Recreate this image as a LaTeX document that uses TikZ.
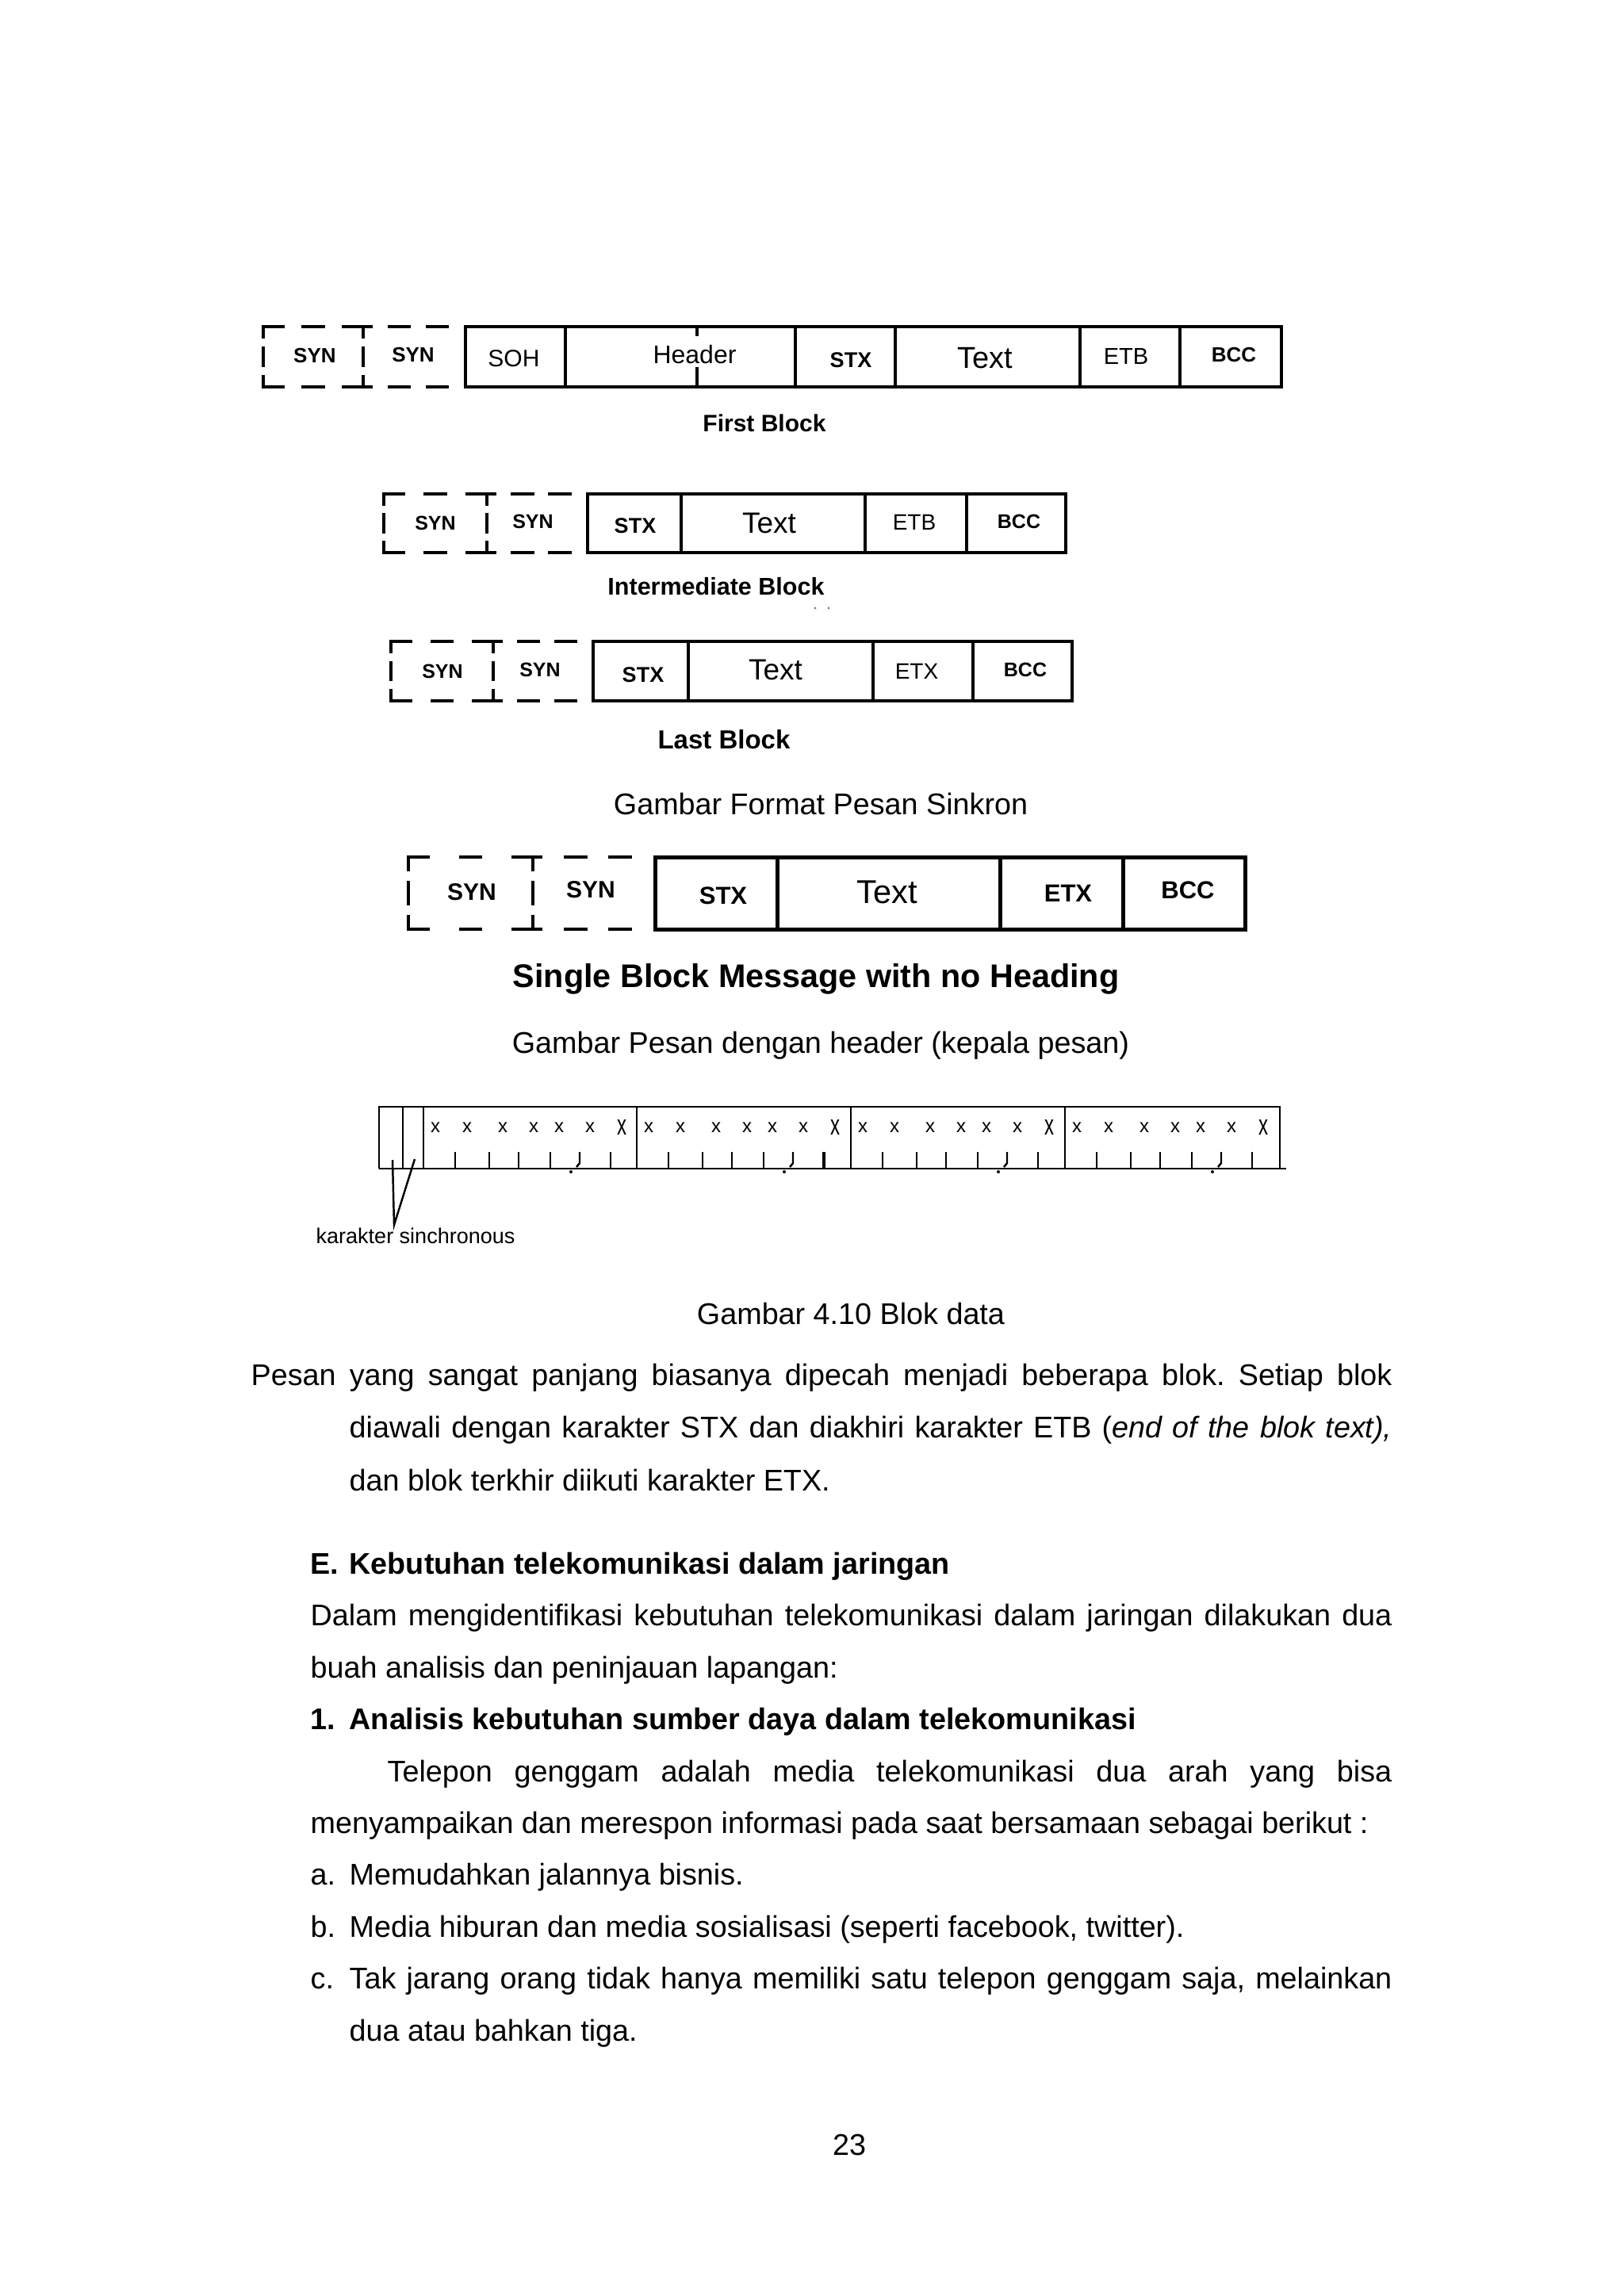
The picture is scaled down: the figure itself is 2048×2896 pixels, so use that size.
\documentclass[tikz,border=0pt]{standalone}
\usepackage{fontspec}
\setmainfont{Liberation Sans}
\usepackage{graphicx}
\newcommand\synframe[5]{%
 \pgfmathsetmacro\sfL{#1}\pgfmathsetmacro\sfM{#2}\pgfmathsetmacro\sfR{#3}%
 \pgfmathsetmacro\sfT{#4}\pgfmathsetmacro\sfB{#5}%
 \pgfmathsetmacro\sfd{25}%
 \pgfmathsetmacro\sfga{(\sfM-\sfL-3*\sfd)/2}%
 \pgfmathsetmacro\sfgb{(\sfR-\sfM-10-2*\sfd)/3}%
 \pgfmathsetmacro\sfh{\sfB-\sfT}%
 \foreach \yy in {\sfT,\sfB}{%
   \foreach \i in {0,1,2}{\draw[dashln] ({\sfL+\i*(\sfd+\sfga)},\yy) -- ++(\sfd,0);}%
   \draw[dashln] (\sfM,\yy) -- ++(10,0);
   \foreach \i in {0,1}{\draw[dashln] ({\sfM+10+\sfgb+\i*(\sfd+\sfgb)},\yy) -- ++(\sfd,0);}%
 }%
 \foreach \xx in {\sfL,\sfM}{%
   \draw[dashln] (\xx,\sfT) -- ++(0,{0.17*\sfh});
   \draw[dashln] (\xx,{\sfT+0.36*\sfh}) -- ++(0,{0.28*\sfh});
   \draw[dashln] (\xx,\sfB) -- ++(0,{-0.17*\sfh});
 }%
}
\tikzset{
  body/.style={font=\fontsize{10.73pt}{13pt}\selectfont\frenchspacing, inner sep=0pt, anchor=base west},
  bodyc/.style={body, anchor=base},
  lb/.style={inner sep=0pt, anchor=center},
  captxt/.style={inner sep=0pt, anchor=base},
  dashln/.style={line width=1.3pt, line cap=rect},
  boxln/.style={line width=1.14pt},
  dataln/.style={line width=0.7pt},
}
\begin{document}
\begin{tikzpicture}[x=0.01cm,y=-0.01cm]
\useasboundingbox (0,0) rectangle (2048,2896);
\fill[white] (0,0) rectangle (2048,2896);

% ---------------- First Block ----------------
\synframe{332}{458}{587}{412}{488}
\draw[boxln] (587,412) rectangle (1616,488);
\foreach \xx in {713,1003,1129,1362,1488}{\draw[boxln] (\xx,412) -- (\xx,488);}
\draw[line width=0.9pt] (879,412) -- (879,424);
\draw[line width=0.9pt] (879,463) -- (879,488);
\node[lb,font=\fontsize{7.4pt}{8pt}\selectfont\bfseries] (a1) at (397,449) {SYN};
\node[lb,font=\fontsize{7.4pt}{8pt}\selectfont\bfseries] (a2) at (521,448) {SYN};
\node[lb,font=\fontsize{8.54pt}{9pt}\selectfont] (a3) at (648,452) {SOH};
\node[lb,font=\fontsize{9.1pt}{10pt}\selectfont] (a4) at (876,447) {Header};
\node[lb,font=\fontsize{7.68pt}{8pt}\selectfont\bfseries] (a5) at (1073,454) {STX};
\node[lb,font=\fontsize{10.81pt}{11pt}\selectfont] (a6) at (1242,452) {Text};
\node[lb,font=\fontsize{8.25pt}{9pt}\selectfont] (a7) at (1420,450) {ETB};
\node[lb,font=\fontsize{7.4pt}{8pt}\selectfont\bfseries] (a8) at (1556,448) {BCC};
\node[captxt,font=\fontsize{8.54pt}{9pt}\selectfont\bfseries] (a9) at (964,544) {First Block};

% ---------------- Intermediate Block ----------------
\synframe{484}{614}{741}{623}{697}
\draw[boxln] (741,623) rectangle (1344,697);
\foreach \xx in {859,1091,1219}{\draw[boxln] (\xx,623) -- (\xx,697);}
\node[lb,font=\fontsize{7.11pt}{8pt}\selectfont\bfseries] (b1) at (549,660) {SYN};
\node[lb,font=\fontsize{7.11pt}{8pt}\selectfont\bfseries] (b2) at (672,658) {SYN};
\node[lb,font=\fontsize{7.68pt}{8pt}\selectfont\bfseries] (b3) at (801,663) {STX};
\node[lb,font=\fontsize{10.53pt}{11pt}\selectfont] (b4) at (970,660) {Text};
\node[lb,font=\fontsize{7.97pt}{8pt}\selectfont] (b5) at (1153,659) {ETB};
\node[lb,font=\fontsize{7.11pt}{8pt}\selectfont\bfseries] (b6) at (1285,658) {BCC};
\node[captxt,font=\fontsize{8.68pt}{9pt}\selectfont\bfseries] (b7) at (903,750) {Intermediate Block};
\fill[gray] (1028,767) circle (1.6);
\fill[gray] (1045,767) circle (1.6);

% ---------------- Last Block ----------------
\synframe{493}{622}{748}{809}{884}
\draw[boxln] (748,809) rectangle (1352,884);
\foreach \xx in {868,1101,1227}{\draw[boxln] (\xx,809) -- (\xx,884);}
\node[lb,font=\fontsize{7.11pt}{8pt}\selectfont\bfseries] (c1) at (558,847) {SYN};
\node[lb,font=\fontsize{7.11pt}{8pt}\selectfont\bfseries] (c2) at (681,845) {SYN};
\node[lb,font=\fontsize{7.68pt}{8pt}\selectfont\bfseries] (c3) at (811,851) {STX};
\node[lb,font=\fontsize{10.53pt}{11pt}\selectfont] (c4) at (978,845) {Text};
\node[lb,font=\fontsize{7.97pt}{8pt}\selectfont] (c5) at (1156,847) {ETX};
\node[lb,font=\fontsize{7.11pt}{8pt}\selectfont\bfseries] (c6) at (1293,845) {BCC};
\node[captxt,font=\fontsize{9.39pt}{10pt}\selectfont\bfseries] (c7) at (913,944) {Last Block};

\node[bodyc] (g1) at (1035,1027) {Gambar Format Pesan Sinkron};

% ---------------- Single Block ----------------
\synframe{515}{672}{826}{1081}{1172}
\draw[line width=1.42pt] (826,1081) rectangle (1570,1172);
\foreach \xx in {980,1261,1416}{\draw[line width=1.42pt] (\xx,1081) -- (\xx,1172);}
\node[lb,font=\fontsize{8.54pt}{9pt}\selectfont\bfseries] (d1) at (595,1125) {SYN};
\node[lb,font=\fontsize{8.54pt}{9pt}\selectfont\bfseries] (d2) at (745,1122) {SYN};
\node[lb,font=\fontsize{8.82pt}{9pt}\selectfont\bfseries] (d3) at (912,1130) {STX};
\node[lb,font=\fontsize{11.84pt}{12pt}\selectfont] (d4) at (1119,1125) {Text};
\node[lb,font=\fontsize{8.82pt}{9pt}\selectfont\bfseries] (d5) at (1347,1127) {ETX};
\node[lb,font=\fontsize{8.82pt}{9pt}\selectfont\bfseries] (d6) at (1498,1123) {BCC};
\node[captxt,font=\fontsize{11.75pt}{12pt}\selectfont\bfseries] (d7) at (1029,1245) {Single Block Message with no Heading};

\node[bodyc] (g2) at (1035,1328) {Gambar Pesan dengan header (kepala pesan)};

% ---------------- Blok data ----------------
\draw[dataln] (478,1474) -- (478,1396) -- (1614,1396) -- (1614,1474);
\draw[dataln] (478,1474) -- (1622,1474);
\foreach \xx in {508,534,803,1073,1343}{\draw[dataln] (\xx,1396) -- (\xx,1474);}
\foreach \s in {534,803,1073,1343}{%
  \foreach \o in {15,55,100,139,171,210}{%
    \node[lb,font=\fontsize{6.83pt}{7pt}\selectfont] (xm\s-\o) at (\s+\o,1422) {x};}
  \node[lb,font=\fontsize{6.83pt}{7pt}\selectfont] (xm\s-250) at (\s+250,1422) {\scalebox{1}[1.5]{x}};
  \foreach \o in {40,83,120,160,236}{\draw[dataln] (\s+\o,1453) -- (\s+\o,1474);}
  \draw[dataln] (\s+197,1453) -- (\s+197,1467) -- (\s+193,1472);
  \fill (\s+186,1478) circle (2);
}
\draw[line width=1.3pt] (1039,1453) -- (1039,1474);
\coordinate (kp) at (497,1545);
\coordinate (s1) at (495,1463);
\coordinate (s2) at (523,1462);
\draw[dataln] (s1) -- (kp) -- (s2);
\node[inner sep=0pt,anchor=base west,font=\fontsize{7.68pt}{8pt}\selectfont] (ks) at (398,1568) {karakter sinchronous};

\node[bodyc] (g3) at (1073,1670) {Gambar 4.10 Blok data};

% ---------------- Body text ----------------
\node[body] (p1) at (316,1747) {\makebox[14.38cm][s]{Pesan yang sangat panjang biasanya dipecah menjadi beberapa blok. Setiap blok}};
\node[body] (p2) at (440,1813) {\makebox[13.14cm][s]{diawali dengan karakter STX dan diakhiri karakter ETB (\textit{end of the blok text),}}};
\node[body] (p3) at (440,1880) {dan blok terkhir diikuti karakter ETX.};
\node[body] (e0) at (391,1985) {\textbf{E.}};
\node[body] (e1) at (440,1985) {\textbf{Kebutuhan telekomunikasi dalam jaringan}};
\node[body] (q1) at (391,2050) {\makebox[13.63cm][s]{Dalam mengidentifikasi kebutuhan telekomunikasi dalam jaringan dilakukan dua}};
\node[body] (q2) at (391,2116) {buah analisis dan peninjauan lapangan:};
\node[body] (n0) at (391,2181) {\textbf{1.}};
\node[body] (n1) at (440,2181) {\textbf{Analisis kebutuhan sumber daya dalam telekomunikasi}};
\node[body] (r1) at (488,2247) {\makebox[12.66cm][s]{Telepon genggam adalah media telekomunikasi dua arah yang bisa}};
\node[body] (r2) at (391,2312) {menyampaikan dan merespon informasi pada saat bersamaan sebagai berikut :};
\node[body] (la) at (391,2377) {a.};
\node[body] (ta) at (440,2377) {Memudahkan jalannya bisnis.};
\node[body] (lb2) at (391,2443) {b.};
\node[body] (tb) at (440,2443) {Media hiburan dan media sosialisasi (seperti facebook, twitter).};
\node[body] (lc) at (391,2508) {c.};
\node[body] (tc) at (440,2508) {\makebox[13.14cm][s]{Tak jarang orang tidak hanya memiliki satu telepon genggam saja, melainkan}};
\node[body] (tc2) at (440,2574) {dua atau bahkan tiga.};
\node[bodyc] (pg) at (1071,2718) {23};
\end{tikzpicture}
\end{document}
